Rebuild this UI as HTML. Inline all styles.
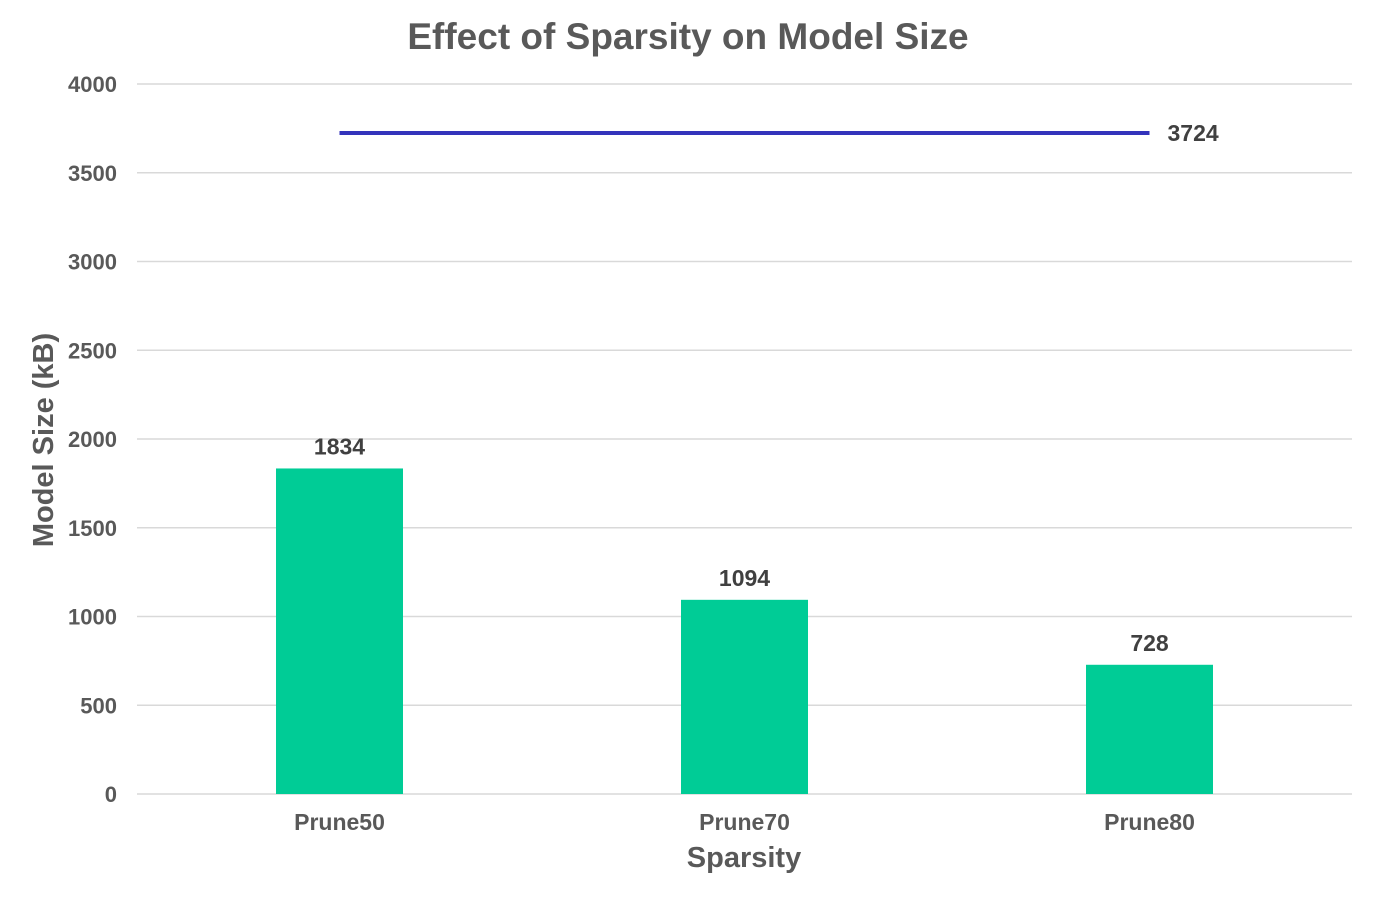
<!DOCTYPE html>
<html><head><meta charset="utf-8"><style>
body{margin:0;background:#fff;}
svg text{font-family:"Liberation Sans",Arial,sans-serif;font-weight:bold;}
</style></head><body>
<svg id="chart" width="1375" height="899" xmlns="http://www.w3.org/2000/svg">
<rect width="1375" height="899" fill="#fff"/>
<text x="688" y="49" text-anchor="middle" font-size="37" fill="#595959">Effect of Sparsity on Model Size</text>
<g id="grid"></g><g id="yticks"></g><g id="bars"></g><g id="xlabels"></g><g id="line"></g>
<text x="744" y="867" text-anchor="middle" font-size="29" fill="#595959">Sparsity</text>
<text transform="translate(53,440) rotate(-90)" text-anchor="middle" font-size="29" fill="#595959">Model Size (kB)</text>
</svg>
<script>
const categories=["Prune50","Prune70","Prune80"];
const barValues=[1834,1094,728];
const baselineValues=[3724,3724,3724];
const yTicks=[0,500,1000,1500,2000,2500,3000,3500,4000];
const NS="http://www.w3.org/2000/svg";
const L=137,R=1352,T=84,B=794,yMax=4000;
const y=v=>B-(v/yMax)*(B-T);
const band=(R-L)/categories.length;
const xc=i=>L+band*(i+0.5);
function mk(tag,attrs,parent,txt){const e=document.createElementNS(NS,tag);for(const k in attrs)e.setAttribute(k,attrs[k]);if(txt!==undefined)e.textContent=txt;document.getElementById(parent).appendChild(e);return e;}
yTicks.forEach(t=>{
 const g=mk('line',{x1:L,x2:R,y1:y(t),y2:y(t),stroke:'#d9d9d9','stroke-width':1.5},'grid');
 
 
 const tx=mk('text',{x:117,y:y(t)+8,'text-anchor':'end','font-size':22,fill:'#595959'},'yticks',String(t));
 
 
});
const bw=127;
categories.forEach((c,i)=>{
 const r=mk('rect',{x:xc(i)-bw/2,y:y(barValues[i]),width:bw,height:B-y(barValues[i]),fill:'#00cc96'},'bars');
 
 
 const lb=mk('text',{x:xc(i),y:y(barValues[i])-14,'text-anchor':'middle','font-size':23,fill:'#404040'},'bars',String(barValues[i]));
 
 
 const xl=mk('text',{x:xc(i),y:830,'text-anchor':'middle','font-size':23,fill:'#595959'},'xlabels',c);
 
 
});
const pts=baselineValues.map((v,i)=>xc(i)+','+y(v)).join(' ');
const pl=mk('polyline',{points:pts,fill:'none',stroke:'#3333bb','stroke-width':4},'line');


const n=baselineValues.length-1;
const ll=mk('text',{x:xc(n)+18,y:y(baselineValues[n])+8,'font-size':23,fill:'#404040'},'line',String(baselineValues[n]));


</script>
</body></html>
